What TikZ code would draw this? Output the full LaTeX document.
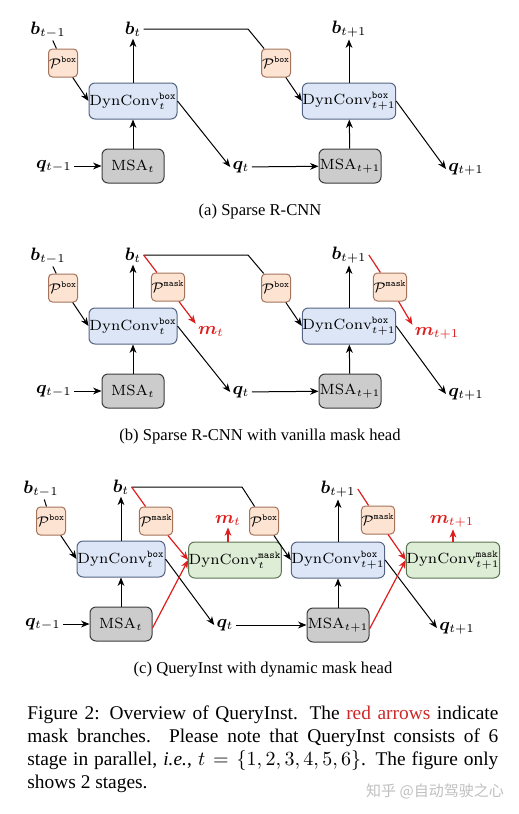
\documentclass[tikz,border=0pt]{standalone}
\usepackage{fontspec}
\usepackage{bm}
\newfontfamily\timesfont{Liberation Serif}
\newfontfamily\cjkfont{Noto Sans CJK SC}
\usetikzlibrary{arrows.meta}
\definecolor{pbf}{RGB}{252,227,210}
\definecolor{pbd}{RGB}{165,115,90}
\definecolor{dbf}{RGB}{220,230,246}
\definecolor{dbd}{RGB}{85,100,130}
\definecolor{msf}{RGB}{204,204,204}
\definecolor{msd}{RGB}{60,60,60}
\definecolor{gbf}{RGB}{222,237,214}
\definecolor{gbd}{RGB}{90,115,80}
\definecolor{redc}{RGB}{222,30,30}
\definecolor{capred}{RGB}{205,40,40}
\begin{document}
\begin{tikzpicture}[x=0.5pt,y=-0.5pt,
  every node/.style={inner sep=0pt},
  boxtxt/.style={font=\fontsize{7.4}{8.8}\selectfont},
  pbox/.style={draw=pbd,fill=pbf,rounded corners=2pt,minimum width=14.5pt,minimum height=14pt,line width=0.5pt,font=\fontsize{6.6}{7.8}\selectfont},
  dbox/.style={draw=dbd,fill=dbf,rounded corners=3pt,minimum width=44pt,minimum height=18pt,line width=0.5pt,boxtxt},
  gbox/.style={draw=gbd,fill=gbf,rounded corners=3pt,minimum width=43pt,minimum height=18pt,line width=0.5pt,boxtxt},
  msa/.style={draw=msd,fill=msf,rounded corners=3pt,minimum width=31pt,minimum height=17pt,line width=0.5pt,boxtxt},
  lab/.style={font=\fontsize{9}{10}\selectfont,inner sep=1pt},
  rlab/.style={lab,text=redc},
  ln/.style={line width=0.5pt},
  arr/.style={ln,-{Stealth[length=4.2pt,width=3.4pt,inset=1.3pt]}},
  rd/.style={draw=redc,line width=0.6pt},
  sub/.style={font=\timesfont\fontsize{8.3}{10}\selectfont}
]
\useasboundingbox (0,0) rectangle (519,814);

% ---------------- (a) ----------------
\node[lab] (ab0) at (48,30) {$\bm{b}_{t-1}$};
\node[pbox] (ap1) at (63,63) {$\mathcal{P}^{\mathtt{box}}$};
\node[dbox] (ad1) at (133,101) {$\mathrm{DynConv}_t^{\mathtt{box}}$};
\node[lab] (ab1) at (133,29) {$\bm{b}_t$};
\node[msa] (am1) at (133,166) {$\mathrm{MSA}_t$};
\node[lab] (aq0) at (54,166) {$\bm{q}_{t-1}$};
\node[lab] (aq1) at (241,167) {$\bm{q}_t$};
\node[pbox] (ap2) at (276,63) {$\mathcal{P}^{\mathtt{box}}$};
\node[dbox] (ad2) at (349,101) {$\mathrm{DynConv}_{t+1}^{\mathtt{box}}$};
\node[lab] (ab2) at (349,29) {$\bm{b}_{t+1}$};
\node[msa] (am2) at (350,166) {$\mathrm{MSA}_{t+1}$};
\node[lab] (aq2) at (466,169) {$\bm{q}_{t+1}$};
\coordinate (ac1) at (248,27);
\draw[ln] (ab0) -- (ap1);
\draw[arr] (ap1) -- (ad1.west);
\draw[arr] (ad1.north) -- (ad1.north |- ab1.south);
\draw[arr] (am1) -- (ad1);
\draw[arr] (aq0) -- (am1);
\draw[arr] (ad1.east) -- (aq1.west);
\draw[arr] (aq1) -- (am2);
\draw[ln] (ab1.east) -- (ab1.east -| ac1) -- (ap2);
\draw[arr] (ap2) -- (ad2.west);
\draw[arr] (ad2.north) -- (ad2.north |- ab2.south);
\draw[arr] (am2) -- (ad2);
\draw[arr] (ad2.east) -- (aq2.west);
\node[sub] (capa) at (260,212) {(a) Sparse R-CNN};

% ---------------- (b) ----------------
\begin{scope}[shift={(0,225)}]
\node[lab] (bb0) at (48,31) {$\bm{b}_{t-1}$};
\node[pbox] (bp1) at (63,63) {$\mathcal{P}^{\mathtt{box}}$};
\node[dbox] (bd1) at (133,101) {$\mathrm{DynConv}_t^{\mathtt{box}}$};
\node[lab] (bb1) at (133,30) {$\bm{b}_t$};
\node[msa] (bm1) at (133,166) {$\mathrm{MSA}_t$};
\node[lab] (bq0) at (54,166) {$\bm{q}_{t-1}$};
\node[lab] (bq1) at (241,167) {$\bm{q}_t$};
\node[pbox] (bpm1) at (168,62) {$\mathcal{P}^{\mathtt{mask}}$};
\node[rlab] (bmt1) at (211,106) {$\bm{m}_t$};
\node[pbox] (bp2) at (276,63) {$\mathcal{P}^{\mathtt{box}}$};
\node[dbox] (bd2) at (349,101) {$\mathrm{DynConv}_{t+1}^{\mathtt{box}}$};
\node[lab] (bb2) at (349,30) {$\bm{b}_{t+1}$};
\node[msa] (bm2) at (350,166) {$\mathrm{MSA}_{t+1}$};
\node[lab] (bq2) at (466,169) {$\bm{q}_{t+1}$};
\node[pbox] (bpm2) at (390,62) {$\mathcal{P}^{\mathtt{mask}}$};
\node[rlab] (bmt2) at (437,108) {$\bm{m}_{t+1}$};
\coordinate (bc1) at (248,27);
\draw[ln] (bb0) -- (bp1);
\draw[arr] (bp1) -- (bd1.west);
\draw[arr] (bd1.north) -- (bd1.north |- bb1.south);
\draw[arr] (bm1) -- (bd1);
\draw[arr] (bq0) -- (bm1);
\draw[arr] (bd1.east) -- (bq1.west);
\draw[arr] (bq1) -- (bm2);
\draw[ln] (bb1.east) -- (bb1.east -| bc1) -- (bp2);
\draw[rd] (bb1.east) -- (bpm1);
\draw[arr,rd] (bpm1) -- (bmt1.north west);
\draw[arr] (bp2) -- (bd2.west);
\draw[arr] (bd2.north) -- (bd2.north |- bb2.south);
\draw[arr] (bm2) -- (bd2);
\draw[arr] (bd2.east) -- (bq2.west);
\draw[rd] (bb2.east) -- (bpm2);
\draw[arr,rd] (bpm2) -- (bmt2.north west);
\node[sub] (capb) at (260,212) {(b) Sparse R-CNN with vanilla mask head};
\end{scope}

% ---------------- (c) ----------------
\begin{scope}[shift={(0,459)}]
\node[lab] (cb0) at (41,30) {$\bm{b}_{t-1}$};
\node[pbox] (cp1) at (51,62) {$\mathcal{P}^{\mathtt{box}}$};
\node[dbox] (cd1) at (121,100) {$\mathrm{DynConv}_t^{\mathtt{box}}$};
\node[lab] (cb1) at (121,28) {$\bm{b}_t$};
\node[msa] (cm1) at (121,165) {$\mathrm{MSA}_t$};
\node[lab] (cq0) at (43,165) {$\bm{q}_{t-1}$};
\node[lab] (cq1) at (225,166) {$\bm{q}_t$};
\node[pbox] (cpm1) at (156,62) {$\mathcal{P}^{\mathtt{mask}}$};
\node[gbox] (cg1) at (235,101) {$\mathrm{DynConv}_t^{\mathtt{mask}}$};
\node[rlab] (cmt1) at (228,61) {$\bm{m}_t$};
\node[pbox] (cp2) at (264,62) {$\mathcal{P}^{\mathtt{box}}$};
\node[dbox] (cd2) at (338,101) {$\mathrm{DynConv}_{t+1}^{\mathtt{box}}$};
\node[lab] (cb2) at (338,30) {$\bm{b}_{t+1}$};
\node[msa] (cm2) at (338,166) {$\mathrm{MSA}_{t+1}$};
\node[lab] (cq2) at (457,169) {$\bm{q}_{t+1}$};
\node[pbox] (cpm2) at (378,61) {$\mathcal{P}^{\mathtt{mask}}$};
\node[gbox] (cg2) at (453,101) {$\mathrm{DynConv}_{t+1}^{\mathtt{mask}}$};
\node[rlab] (cmt2) at (452,62) {$\bm{m}_{t+1}$};
\coordinate (cc1) at (242,27);
\draw[ln] (cb0) -- (cp1);
\draw[arr] (cp1) -- (cd1.west);
\draw[arr] (cd1.north) -- (cd1.north |- cb1.south);
\draw[arr] (cm1) -- (cd1);
\draw[arr] (cq0) -- (cm1);
\draw[arr] (cd1.east) -- (cq1.west);
\draw[arr] (cq1) -- (cm2);
\draw[ln] (cb1.east) -- (cb1.east -| cc1) -- (cp2);
\draw[rd] (cb1.east) -- (cpm1);
\draw[arr,rd] (cpm1) -- (cg1.west);
\draw[arr,rd] ([yshift=-2pt]cm1.east) -- (cg1.west);
\draw[arr,rd] (cmt1.south |- cg1.north) -- (cmt1.south);
\draw[arr] (cp2) -- (cd2.west);
\draw[arr] (cd2.north) -- (cd2.north |- cb2.south);
\draw[arr] (cm2) -- (cd2);
\draw[arr] (cd2.east) -- (cq2.west);
\draw[rd] (cb2.east) -- (cpm2);
\draw[arr,rd] (cpm2) -- (cg2.west);
\draw[arr,rd] ([yshift=-2pt]cm2.east) -- (cg2.west);
\draw[arr,rd] (cg2.north) -- (cg2.north |- cmt2.south);
\node[sub] (capc) at (263,211) {(c) QueryInst with dynamic mask head};
\end{scope}

% ---------------- caption ----------------
\node[anchor=north west,text width=235.5pt,align=justify,font=\timesfont\fontsize{9.7}{11.6}\selectfont] (fig) at (27,705)
{Figure 2: Overview of QueryInst. The \textcolor{capred}{red arrows} indicate\linebreak
mask branches. Please note that QueryInst consists of 6\linebreak
stage in parallel, \textit{i.e.}, $t=\{1,2,3,4,5,6\}$. The figure only\linebreak
shows 2 stages.};
\node[font=\cjkfont\fontsize{7.5}{9}\selectfont,text=black!25] (wm) at (435,791) {知乎 @自动驾驶之心};
\end{tikzpicture}
\end{document}
